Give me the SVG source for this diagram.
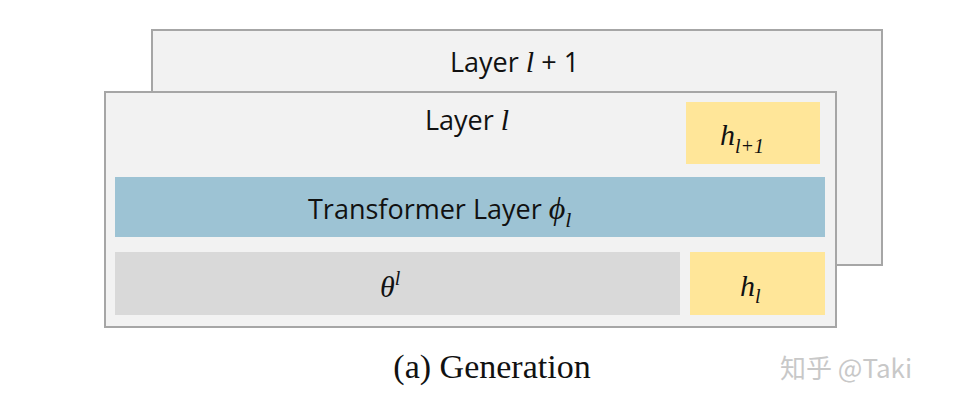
<svg xmlns="http://www.w3.org/2000/svg" width="957" height="408" viewBox="0 0 957 408">
<style>
.layer{fill:#f2f2f2;stroke:#a6a6a6;stroke-width:2}
.t{font-family:"Open Sans","DejaVu Sans",sans-serif;font-size:27px;fill:#111}
.m{font-family:"Liberation Serif",serif;font-style:italic;fill:#111}
.y{fill:#ffe699}
</style>
<rect width="957" height="408" fill="#fff"/>
<g id="layer-next"><rect class="layer" x="152" y="30" width="730" height="235"/>
<text class="t" x="450" y="72">Layer <tspan class="m" font-size="30">l</tspan> + 1</text></g>
<g id="layer-l"><rect class="layer" x="105" y="92" width="731" height="235"/>
<text class="t" x="425" y="130">Layer <tspan class="m" font-size="30">l</tspan></text></g>
<g id="h-next"><rect class="y" x="686" y="102" width="134" height="62"/>
<text class="m" x="720" y="145" font-size="30">h<tspan font-size="20" dy="8">l+1</tspan></text></g>
<g id="transformer"><rect fill="#9dc3d4" x="115" y="177" width="710" height="60"/>
<text class="t" x="308" y="219" font-size="30">Transformer Layer <tspan class="m" font-size="32">ϕ</tspan><tspan class="m" font-size="22" dy="8">l</tspan></text></g>
<g id="theta"><rect fill="#d9d9d9" x="115" y="252" width="565" height="63"/>
<text class="m" x="380" y="297" font-size="30">θ<tspan font-size="20" dy="-12">l</tspan></text></g>
<g id="h-l"><rect class="y" x="690" y="252" width="135" height="63"/>
<text class="m" x="740" y="296" font-size="30">h<tspan font-size="20" dy="7">l</tspan></text></g>
<g id="connectors"/>
<text x="492" y="378" text-anchor="middle" font-family="Liberation Serif,serif" font-size="34" fill="#111">(a) Generation</text>
<text x="780" y="378" font-family="Noto Sans CJK SC,sans-serif" font-size="26" fill="#c8c8c8">知乎 @Taki</text>
</svg>
